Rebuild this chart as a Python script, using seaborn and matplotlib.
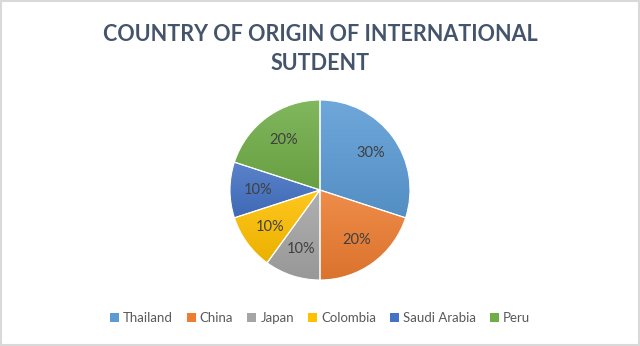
import matplotlib
matplotlib.use("Agg")
import matplotlib.pyplot as plt
import seaborn as sns
import numpy as np
from matplotlib.patches import Rectangle, Patch, Wedge
from matplotlib.colors import LinearSegmentedColormap, to_rgb

countries = ["Thailand", "China", "Japan", "Colombia", "Saudi Arabia", "Peru"]
shares = [30, 20, 10, 10, 10, 20]
colors = ["#5B9BD5", "#ED7D31", "#A5A5A5", "#FFC000", "#4472C4", "#70AD47"]
title = "COUNTRY OF ORIGIN OF INTERNATIONAL\nSUTDENT"

sns.set_theme(style="white")
plt.rcParams['font.family'] = ['Lato', 'DejaVu Sans']
palette = sns.color_palette(colors)

fig = plt.figure(figsize=(6.4, 3.46), dpi=100)
fig.patch.set_facecolor("white")

cy = (346 - 190) / 346
h = 180 / 346
ax = fig.add_axes([(320 - 90) / 640, cy - h / 2, 180 / 640, h])
wedges, texts, autotexts = ax.pie(
    shares, colors=palette, startangle=90, counterclock=False,
    autopct=lambda p: f"{p:.0f}%", pctdistance=0.69,
    wedgeprops=dict(edgecolor="white", linewidth=0.8),
    textprops=dict(color="#404040", fontsize=10.5),
)


def mix(c, other, t):
    c = np.array(to_rgb(c))
    o = np.array(to_rgb(other))
    return tuple(c * (1 - t) + o * t)


for w, c in zip(wedges, colors):
    th = np.radians(np.linspace(w.theta1, w.theta2, 60))
    xs = np.concatenate([[w.center[0]], w.center[0] + w.r * np.cos(th)])
    ys = np.concatenate([[w.center[1]], w.center[1] + w.r * np.sin(th)])
    cmap = LinearSegmentedColormap.from_list("g", [mix(c, "black", 0.08), mix(c, "white", 0.12)])
    grad = np.linspace(0, 1, 100).reshape(-1, 1)
    im = ax.imshow(grad, cmap=cmap, origin="lower", aspect="auto",
                   extent=(xs.min(), xs.max(), ys.min(), ys.max()),
                   zorder=w.get_zorder() + 0.1, interpolation="bilinear")
    im.set_clip_path(w)
    edge = Wedge(w.center, w.r, w.theta1, w.theta2, facecolor="none",
                 edgecolor="white", linewidth=0.8, zorder=w.get_zorder() + 0.2)
    ax.add_patch(edge)

for t in autotexts:
    t.set_zorder(5)

ax.set_xlim(-1.0, 1.0)
ax.set_ylim(-1.0, 1.0)
ax.set_aspect("equal")
ax.axis("off")

fig.text(0.5, (346 - 49) / 346, title, ha="center", va="center",
         fontsize=15.5, fontweight="bold", color="#44546A", linespacing=1.52)

handles = [Patch(facecolor=c, edgecolor="none") for c in colors]
fig.legend(handles, countries, loc="center", bbox_to_anchor=(0.5, (346 - 318) / 346),
           ncol=6, frameon=False, fontsize=9.5, handlelength=0.7, handleheight=0.7,
           handletextpad=0.3, columnspacing=1.05, labelcolor="#595959")

fig.add_artist(Rectangle((0.001, 0.002), 0.997, 0.995, transform=fig.transFigure,
                         fill=False, edgecolor="#D9D9D9", linewidth=1.5))

fig.savefig("out.png", dpi=100)
